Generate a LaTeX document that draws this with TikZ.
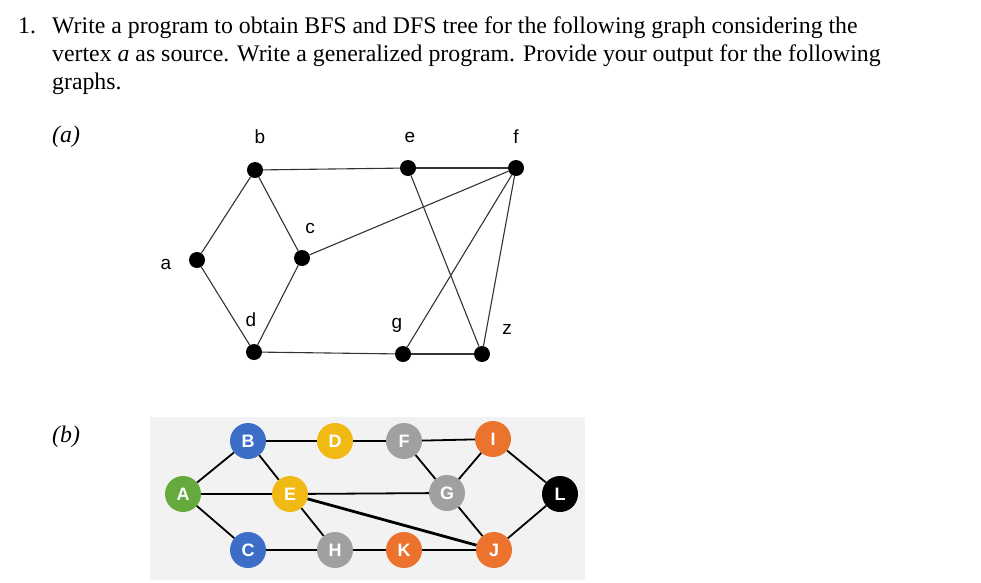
\documentclass[tikz,border=0pt]{standalone}
\usepackage{fontspec}
\setmainfont{Liberation Serif}
\newfontfamily\lab{Liberation Sans}
\begin{document}
\begin{tikzpicture}[x=1pt,y=-1pt,
  dot/.style={circle,fill=black,inner sep=0pt,minimum size=16pt},
  lb/.style={font=\lab\fontsize{19}{19}\selectfont,inner sep=0pt},
  ed/.style={draw=black!80,line width=1.1pt},
  cn/.style={circle,inner sep=0pt,minimum size=36pt,text=white,font=\lab\bfseries\fontsize{18}{18}\selectfont},
  e2/.style={draw=black,line width=1.8pt},
  txt/.style={anchor=base west,inner sep=0pt,font=\fontsize{23.8}{23.8}\selectfont}]
\useasboundingbox (0,0) rectangle (981,582);
\node[txt] (t0) at (18,33) {1.};
\node[txt] (t1) at (52,33) {Write a program to obtain BFS and DFS tree for the following graph considering the};
\node[txt] (t2) at (52,61) {vertex \textit{a} as source. Write a generalized program. Provide your output for the following};
\node[txt] (t3) at (52,89) {graphs.};
\node[txt] (la) at (52,142) {\textit{(a)}};
\node[txt] (lbb) at (52,442) {\textit{(b)}};
% graph a
\node[dot] (a) at (197,260) {}; \node[lb] at (166,264) {a};
\node[dot] (b) at (255,170) {}; \node[lb] at (260,137) {b};
\node[dot] (c) at (302,258) {}; \node[lb] at (310,228) {c};
\node[dot] (d) at (254,352) {}; \node[lb] at (251,320) {d};
\node[dot] (e) at (408,168) {}; \node[lb] at (410,137) {e};
\node[dot] (f) at (516,168) {}; \node[lb] at (516,137) {f};
\node[dot] (g) at (403,354) {}; \node[lb] at (397,325) {g};
\node[dot] (z) at (482,354) {}; \node[lb] at (507,329) {z};
\foreach \u/\v in {a/b,a/d,b/c,c/d,b/e,e/f,c/f,e/z,f/g,f/z,d/g,g/z}
  \draw[ed] (\u) -- (\v);
% graph b
\fill[black!5] (150,417) rectangle (585,580);
\definecolor{cb}{RGB}{60,110,200}\definecolor{cy}{RGB}{240,185,20}
\definecolor{cg}{RGB}{160,160,160}\definecolor{co}{RGB}{236,115,45}
\definecolor{cgr}{RGB}{100,170,60}
\node[cn,fill=cb] (B) at (248,441) {B};
\node[cn,fill=cy] (D) at (335,441) {D};
\node[cn,fill=cg] (F) at (404,441) {F};
\node[cn,fill=co] (I) at (493,439) {I};
\node[cn,fill=cgr] (A) at (183,494) {A};
\node[cn,fill=cy] (E) at (290,494) {E};
\node[cn,fill=cg] (G) at (447,493) {G};
\node[cn,fill=black] (L) at (560,494) {L};
\node[cn,fill=cb] (C) at (248,550) {C};
\node[cn,fill=cg] (H) at (335,550) {H};
\node[cn,fill=co] (K) at (404,550) {K};
\node[cn,fill=co] (J) at (494,550) {J};
\foreach \u/\v in {A/B,A/E,A/C,B/D,B/E,D/F,F/I,F/G,I/G,I/L,E/G,E/H,C/H,H/K,K/J,G/J,J/L}
  \draw[e2] (\u) -- (\v);
\draw[draw=black,line width=2.8pt] (E) -- (J);
\end{tikzpicture}
\end{document}
